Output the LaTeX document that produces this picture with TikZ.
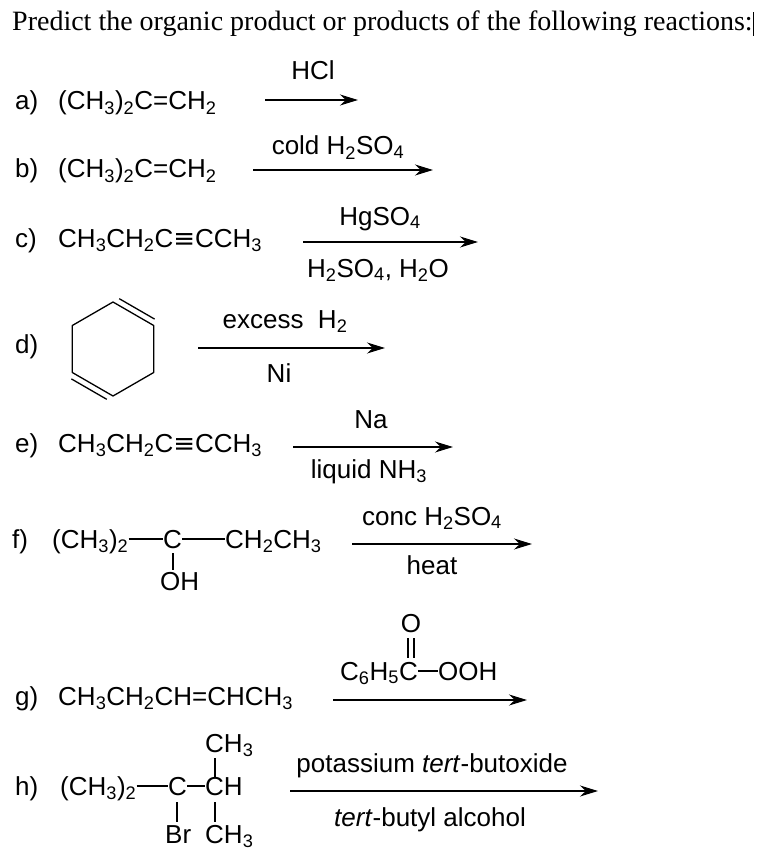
\documentclass[tikz,border=0pt]{standalone}
\usepackage{fontspec}
\setmainfont{Liberation Sans}
\newfontfamily\titlefont{Liberation Serif}
\newfontfamily\dv{DejaVu Sans}
\usetikzlibrary{arrows.meta,calc}
\newcommand{\chs}[1]{\textsubscript{#1}}
\newcommand{\trip}{{\dv\char"2261}}
\begin{document}
\begin{tikzpicture}[x=1pt,y=-1pt,
  txt/.style={anchor=base west,inner sep=0pt,font=\fontsize{26}{29}\selectfont},
  ctr/.style={anchor=base,inner sep=0pt,font=\fontsize{26}{29}\selectfont},
  arr/.style={-{Stealth[length=18pt,width=11pt]},line width=1.5pt},
  bond/.style={line width=1.3pt}]
\useasboundingbox (0,0) rectangle (771,861);
\fill[white] (0,0) rectangle (771,861);
% title
\node[anchor=base west,inner sep=0pt,font=\titlefont\fontsize{28}{31}\selectfont] (title) at (12,31) {Predict the organic product or products of the following reactions:};
\draw[line width=1pt] ($(title.east)+(1,-12)$) -- ++(0,24);
% a
\node[txt] (la) at (15,110) {a)};
\node[txt] (fa) at (58,110) {(CH\chs{3})\chs{2}C=CH\chs{2}};
\coordinate (a1) at (265,100); \coordinate (a2) at (358,100);
\draw[arr] (a1) -- (a2);
\node[ctr] (ra) at (313,80) {HCl};
% b
\node[txt] (lb) at (15,178) {b)};
\node[txt] (fb) at (58,178) {(CH\chs{3})\chs{2}C=CH\chs{2}};
\coordinate (b1) at (253,170); \coordinate (b2) at (433,170);
\draw[arr] (b1) -- (b2);
\node[ctr] (rb) at (338,155) {cold H\chs{2}SO\chs{4}};
% c
\node[txt] (lc) at (15,247) {c)};
\node[txt] (fc) at (58,247) {CH\chs{3}CH\chs{2}C\trip CCH\chs{3}};
\coordinate (c1) at (303,242); \coordinate (c2) at (478,242);
\draw[arr] (c1) -- (c2);
\node[ctr] (rc1) at (380,225) {HgSO\chs{4}};
\node[ctr] (rc2) at (378,277) {H\chs{2}SO\chs{4}, H\chs{2}O};
% d
\node[txt] (ld) at (15,353) {d)};
\coordinate (hc) at (113,349);
\coordinate (h1) at ($(hc)+(0,-47)$); \coordinate (h2) at ($(hc)+(40.7,-23.5)$);
\coordinate (h3) at ($(hc)+(40.7,23.5)$); \coordinate (h4) at ($(hc)+(0,47)$);
\coordinate (h5) at ($(hc)+(-40.7,23.5)$); \coordinate (h6) at ($(hc)+(-40.7,-23.5)$);
\draw[bond,line join=round] (h1)--(h2)--(h3)--(h4)--(h5)--(h6)--cycle;
\draw[bond] ($(h1)!0.08!(h2)+(3,-5.2)$) -- ($(h1)!0.95!(h2)+(3,-5.2)$);
\draw[bond] ($(h4)!0.08!(h5)+(-3,5.2)$) -- ($(h4)!0.95!(h5)+(-3,5.2)$);
\coordinate (d1) at (198,348); \coordinate (d2) at (385,348);
\draw[arr] (d1) -- (d2);
\node[ctr] (rd1) at (285,328) {excess\ \ H\chs{2}};
\node[ctr] (rd2) at (279,382) {Ni};
% e
\node[txt] (le) at (15,452) {e)};
\node[txt] (fe) at (58,452) {CH\chs{3}CH\chs{2}C\trip CCH\chs{3}};
\coordinate (e1) at (293,447); \coordinate (e2) at (453,447);
\draw[arr] (e1) -- (e2);
\node[ctr] (re1) at (371,428) {Na};
\node[ctr] (re2) at (369,478) {liquid NH\chs{3}};
% f
\node[txt] (lf) at (12,548) {f)};
\node[txt] (ff1) at (52,548) {(CH\chs{3})\chs{2}};
\node[txt] (ffc) at (163,548) {C};
\node[txt] (ff2) at (225,548) {CH\chs{2}CH\chs{3}};
\node[txt] (ffo) at (160,590) {OH};
\draw[bond] (ff1.east|-0,539) -- (ffc.west|-0,539);
\draw[bond] (ffc.east|-0,539) -- (ff2.west|-0,539);
\draw[bond] (173,553) -- (173,570);
\coordinate (f1) at (352,544); \coordinate (f2) at (532,544);
\draw[arr] (f1) -- (f2);
\node[ctr] (rf1) at (432,525) {conc H\chs{2}SO\chs{4}};
\node[ctr] (rf2) at (432,574) {heat};
% g
\node[txt] (lg) at (15,705) {g)};
\node[txt] (fg) at (58,705) {CH\chs{3}CH\chs{2}CH=CHCH\chs{3}};
\coordinate (g1) at (333,700); \coordinate (g2) at (527,700);
\draw[arr] (g1) -- (g2);
\node[txt] (rg1) at (340,680) {C\chs{6}H\chs{5}C};
\node[txt] (rg2) at (438,680) {OOH};
\node[ctr] (rgo) at (411,632) {O};
\draw[bond] (rg1.east|-0,671) -- (rg2.west|-0,671);
\draw[bond] (408,638) -- (408,658);
\draw[bond] (414,638) -- (414,658);
% h
\node[txt] (lh) at (15,795) {h)};
\node[txt] (fh1) at (60,795) {(CH\chs{3})\chs{2}};
\node[txt] (fhc) at (168,795) {C};
\node[txt] (fhch) at (205,795) {CH};
\node[txt] (fht) at (205,752) {CH\chs{3}};
\node[txt] (fhb) at (165,843) {Br};
\node[txt] (fhm) at (205,843) {CH\chs{3}};
\draw[bond] (fh1.east|-0,786) -- (fhc.west|-0,786);
\draw[bond] (fhc.east|-0,786) -- (fhch.west|-0,786);
\draw[bond] (177,802) -- (177,822);
\draw[bond] (215,758) -- (215,777);
\draw[bond] (215,802) -- (215,822);
\coordinate (h1a) at (290,791); \coordinate (h2a) at (598,791);
\draw[arr] (h1a) -- (h2a);
\node[ctr] (rh1) at (432,772) {potassium \textit{tert}-butoxide};
\node[ctr] (rh2) at (430,826) {\textit{tert}-butyl alcohol};
\end{tikzpicture}
\end{document}
